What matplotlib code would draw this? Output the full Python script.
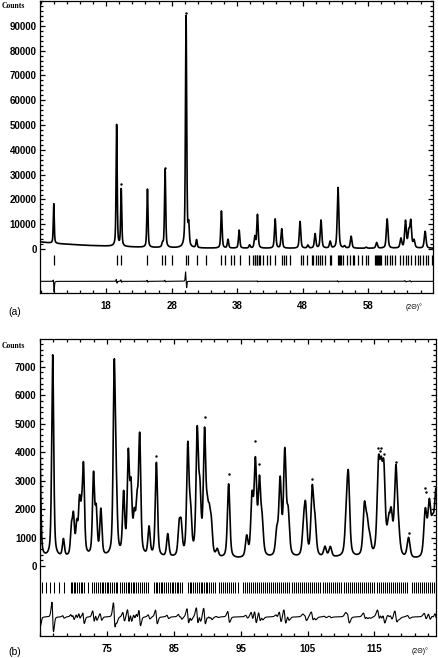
import numpy as np
import matplotlib
matplotlib.use('Agg')
import matplotlib.pyplot as plt
from matplotlib.ticker import FixedLocator

# ---- panel (a) data ----
a_peak_pos = [10.0, 19.6, 20.3, 24.3, 26.6, 27.0, 30.2, 30.6, 31.8, 35.6, 36.6, 38.3, 39.9,
              40.7, 41.1, 43.8, 44.8, 47.6, 48.8, 49.9, 50.8, 52.2, 53.4, 54.4, 55.4, 57.7,
              59.3, 60.9, 63.0, 63.7, 64.2, 64.5, 65.0, 66.7]
a_peak_h = [16000, 49000, 23000, 23500, 1500, 31500, 93500, 8000, 3200, 15000, 3500, 7300, 1300,
            4500, 13500, 11800, 7800, 10800, 1200, 5800, 11300, 2700, 24500, 800, 4800, 400,
            2300, 11800, 3800, 10800, 6000, 10500, 3000, 6800]
a_bg_x = [7.9, 10, 15, 20, 25, 30, 40, 68]
a_bg_y = [2900, 2300, 1500, 1000, 600, 400, 300, 300]
a_refl = [10.0, 19.6, 20.2, 24.3, 26.6, 27.0, 28.0, 30.2, 30.5, 31.8, 33.2,
          35.6, 36.2, 37.1, 37.5, 38.4, 39.8, 40.4, 40.7, 40.8, 41.0, 41.1, 41.3, 41.5,
          42.0, 42.5, 43.0, 43.8, 44.8, 45.2, 45.5, 46.0, 47.7, 48.1, 48.6, 49.4, 49.6,
          50.0, 50.3, 50.6, 51.0, 51.4, 52.1, 52.3, 53.4, 53.6, 53.7, 53.9, 54.2, 54.7,
          55.2, 55.7, 55.9, 56.5, 57.1, 57.7, 58.0, 59.0, 59.2, 59.3, 59.5, 59.6, 59.8,
          60.0, 60.5, 60.9, 61.3, 61.6, 62.1, 62.8, 63.3, 63.8, 64.1, 64.6, 65.1, 65.6,
          65.9, 66.4, 66.8, 67.1, 67.7]
# misfit lobes in the difference curve (position, signed size)
a_diff_pos = [9.95, 10.05, 19.55, 19.65, 20.25, 20.35, 24.25, 24.35, 26.95, 27.05,
              30.12, 30.28, 41.05, 41.15, 53.35, 53.45, 63.6, 63.8, 64.4, 64.6]
a_diff_amp = [1200, -4500, 900, -900, 700, -500, 500, -400, 500, -300,
              4000, -2800, 250, -250, 300, -300, 300, -250, 300, -250]
a_obs_x = [20.3, 27.0, 30.2]
a_obs_y = [26200, 32800, 95000]

# ---- panel (b) data ----
b_peak_pos = [64.95, 66.9, 68.5, 69.7, 70.0, 70.5, 70.9, 71.2, 71.5, 73.0, 73.4, 74.1, 76.1,
              76.4, 77.5, 78.2, 78.6, 79.1, 79.5, 79.9, 81.3, 82.4, 84.1, 85.8, 86.1, 87.1,
              87.5, 88.5, 88.9, 89.6, 90.0, 90.3, 90.6, 91.5, 93.2, 95.9, 96.7, 97.2, 97.8,
              98.2, 100.4, 100.9, 101.6, 102.1, 104.4, 104.7, 105.7, 106.1, 107.6, 108.4,
              110.8, 111.1, 113.5, 113.9, 114.3, 115.6, 116.0, 116.4, 117.1, 117.5, 118.2,
              118.6, 120.1, 122.6, 123.2, 123.7, 124.2]
b_peak_h = [4400, 7100, 600, 900, 1300, 1000, 1700, 1100, 3000, 2800, 1500, 1600, 6500,
            1800, 2100, 3400, 2200, 1200, 1600, 4100, 1000, 3300, 800, 1000, 1000, 3800,
            1400, 4200, 2000, 4200, 1200, 1100, 1000, 250, 2600, 700, 2000, 3200, 2500,
            1100, 800, 2600, 3600, 1400, 900, 1600, 2300, 1100, 350, 350,
            1200, 2600, 1700, 1000, 500, 2900, 2300, 2700, 900, 1300, 3000,
            700, 700, 1600, 1800, 1000, 2300]
b_bg_x = [65, 80, 95, 110, 124.2]
b_bg_y = [280, 280, 230, 280, 200]
b_refl = [65.3, 65.9, 66.5, 67.1, 67.9, 68.6,
          69.6, 69.8, 70.1, 70.3, 70.6, 70.8, 71.1, 71.3, 71.6, 72.2, 72.7,
          73.1, 73.4, 73.6, 73.9, 74.2, 74.4, 74.7, 75.0, 75.2, 75.5, 75.8, 76.0, 76.3, 76.5,
          77.0, 77.3, 77.5, 77.8, 78.1, 78.3, 78.6, 78.9, 79.1, 79.4, 79.7, 79.9, 80.2, 80.5, 80.8,
          81.2,
          82.0, 82.3, 82.5, 82.8, 83.1, 83.3, 83.6, 83.9, 84.1, 84.4, 84.7, 84.9, 85.2, 85.5, 85.7,
          86.0, 86.2,
          87.1, 87.4, 87.6, 87.9, 88.2, 88.4, 88.7, 89.0, 89.2, 89.5, 89.8, 90.0, 90.3, 90.6, 90.9, 91.2,
          91.7, 92.0, 92.3, 92.6, 92.9, 93.2, 93.5, 93.8, 94.1, 94.6,
          95.3, 95.6, 95.9, 96.2, 96.5, 96.8, 97.1, 97.4, 97.7, 98.0, 98.3, 98.6, 98.9, 99.2,
          99.5, 99.8, 100.1, 100.4, 100.7, 101.0, 101.3, 101.6, 101.9, 102.2,
          102.6, 102.9, 103.2, 103.5, 103.8, 104.1, 104.4, 104.7, 105.0, 105.3, 105.6, 105.9,
          106.2, 106.5, 106.8,
          107.3, 107.6, 107.9, 108.2, 108.5, 108.8, 109.1, 109.4, 109.7, 110.0,
          110.5, 110.8, 111.1, 111.4, 111.7, 112.0, 112.3, 112.6, 112.9, 113.2, 113.5, 113.8,
          114.1, 114.4, 114.7, 115.0,
          115.4, 115.7, 116.0, 116.3, 116.6, 116.9, 117.2, 117.5, 117.8, 118.1, 118.4, 118.7,
          119.0, 119.3, 119.6, 119.9,
          120.6, 120.9, 121.2, 121.5, 121.8, 122.1, 122.4, 122.7, 123.0, 123.3, 123.6, 123.9]
b_obs_x = [82.4, 89.6, 93.2, 97.2, 97.8, 105.7, 115.6, 115.8, 116.0, 116.4, 117.1, 118.2, 120.1, 122.6, 122.7]
b_obs_y = [3850, 5250, 3250, 4400, 3600, 3050, 4150, 4050, 4150, 3950, 1900, 3650, 1150, 2750, 2600]


def pv(x, p, h, w):
    # pseudo-Voigt, half lorentz half gauss
    u = (x - p) / (w / 2.0)
    return h * (0.5 / (1 + u**2) + 0.5 * np.exp(-np.log(2) * u**2))


def fwhm(p, w0, wk, x0):
    return w0 + wk * (p - x0)


def profile(x, pos, hts, bgx, bgy, w0, wk, x0):
    y = np.interp(x, bgx, bgy)
    for p, h in zip(pos, hts):
        y = y + pv(x, p, h, fwhm(p, w0, wk, x0))
    return y


def style(ax, xmaj, xmin_, ymaj, ymin_):
    ax.xaxis.set_major_locator(FixedLocator(xmaj))
    ax.xaxis.set_minor_locator(FixedLocator(xmin_))
    ax.yaxis.set_major_locator(FixedLocator(ymaj))
    ax.yaxis.set_minor_locator(FixedLocator(ymin_))
    ax.tick_params(which='both', direction='in', top=True, right=True, width=0.9)
    ax.tick_params(which='major', length=3.8)
    ax.tick_params(which='minor', length=2.2)
    ax.tick_params(axis='x', pad=5.5)
    ax.tick_params(axis='y', pad=2.5)
    for lab in ax.get_xticklabels() + ax.get_yticklabels():
        lab.set_fontweight('bold')
        lab.set_fontsize(7)
        lab.set_family('Liberation Sans')
    for s in ax.spines.values():
        s.set_linewidth(0.9)


fig = plt.figure(figsize=(4.38, 6.58), dpi=100)

# ---- (a) ----
ax1 = fig.add_axes([40 / 438, 1 - 293 / 658, 393 / 438, 292 / 658])
xa = np.linspace(7.9, 67.9, 6000)
ya = profile(xa, a_peak_pos, a_peak_h, a_bg_x, a_bg_y, 0.17, 0.0025, 10)
da = -13000 + np.zeros_like(xa)
for p, m in zip(a_diff_pos, a_diff_amp):
    da = da + pv(xa, p, m, 0.12)
ax1.plot(xa, ya, color='black', lw=1.2)
ax1.plot(a_obs_x, a_obs_y, '.', color='black', ms=1.5)
ax1.vlines(a_refl, -6400, -2400, color='black', lw=0.9)
ax1.plot(xa, da, color='black', lw=0.8)
ax1.set_xlim(7.9, 67.9)
ax1.set_ylim(-17700, 100000)
style(ax1, [18, 28, 38, 48, 58], list(range(8, 68, 2)),
      list(range(0, 100000, 10000)), list(range(0, 100001, 2000)))

# ---- (b) ----
ax2 = fig.add_axes([40 / 438, 1 - 636 / 658, 396 / 438, 297 / 658])
xb = np.linspace(65.0, 124.2, 8000)
yb = profile(xb, b_peak_pos, b_peak_h, b_bg_x, b_bg_y, 0.34, 0.003, 65)
# difference: slope of the fit, scaled by local peak width
db = -1780 + 0.055 * fwhm(xb, 0.34, 0.003, 65) * np.gradient(yb, xb)
ax2.plot(xb, yb, color='black', lw=1.2)
ax2.plot(b_obs_x, b_obs_y, '.', color='black', ms=1.5)
ax2.vlines(b_refl, -950, -560, color='black', lw=0.75)
ax2.plot(xb, db, color='black', lw=0.8)
ax2.set_xlim(65.0, 124.2)
ax2.set_ylim(-2450, 7970)
style(ax2, [75, 85, 95, 105, 115], list(range(65, 125, 2)),
      list(range(0, 8000, 1000)), list(range(0, 8001, 200)))

# labels
fig.text(2 / 438, 1 - 6 / 658, 'Counts', fontsize=5.5, fontweight='bold', family='Liberation Serif', va='center')
fig.text(2 / 438, 1 - 346 / 658, 'Counts', fontsize=5.5, fontweight='bold', family='Liberation Serif', va='center')
fig.text(15 / 438, 1 - 312 / 658, '(a)', fontsize=7.5, family='Liberation Sans', ha='center', va='center')
fig.text(15 / 438, 1 - 652 / 658, '(b)', fontsize=7.5, family='Liberation Sans', ha='center', va='center')
fig.text(414 / 438, 1 - 307 / 658, '(2\u0398)\u00b0', fontsize=5, family='Liberation Sans', ha='center', va='center')
fig.text(420 / 438, 1 - 651 / 658, '(2\u0398)\u00b0', fontsize=5, family='Liberation Sans', ha='center', va='center')

fig.savefig('out.png', dpi=100)
